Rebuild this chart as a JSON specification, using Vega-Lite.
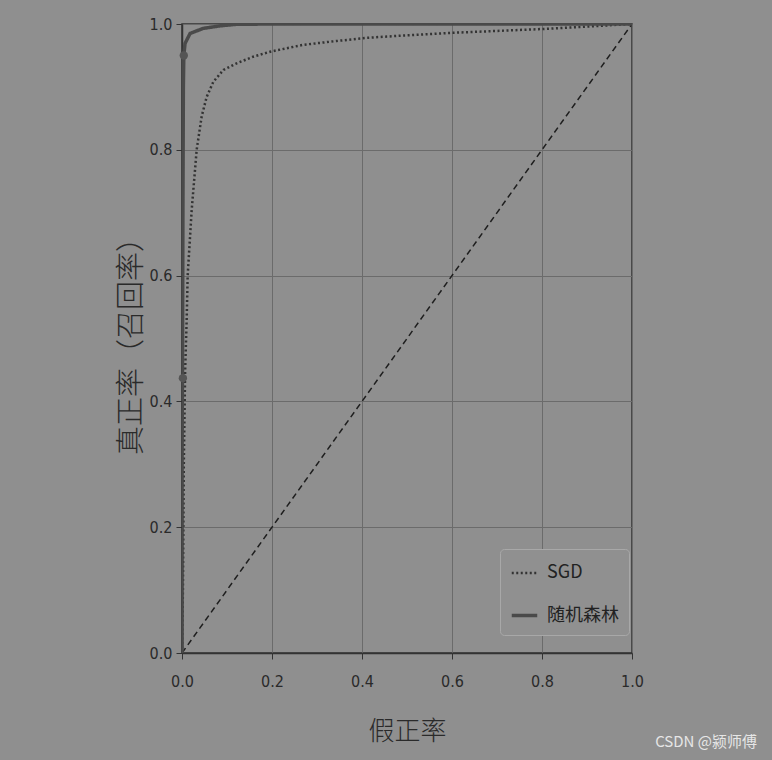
{
  "$schema": "https://vega.github.io/schema/vega-lite/v6.json",
  "width": 450,
  "height": 629,
  "autosize": {"type": "none"},
  "padding": {"left": 182, "top": 24, "right": 140, "bottom": 107},
  "background": "#8f8f8f",
  "title": {
    "text": "CSDN @颍师傅",
    "orient": "bottom",
    "anchor": "end",
    "frame": "group",
    "dx": 125,
    "offset": 0,
    "dy": -9,
    "fontSize": 15,
    "fontWeight": "normal",
    "font": "Noto Sans CJK SC",
    "color": "#e6e6e6"
  },
  "config": {
    "view": {"stroke": "#333333", "strokeWidth": 1.5},
    "axis": {
      "labelFont": "Liberation Sans Narrow, DejaVu Sans Condensed, Liberation Sans",
      "labelFontSize": 16,
      "labelColor": "#2a2a2a",
      "labelFlush": false,
      "tickColor": "#333333",
      "tickSize": 6,
      "domainColor": "#333333",
      "domainWidth": 1.5,
      "gridColor": "#6b6b6b",
      "gridWidth": 1,
      "titleFont": "Noto Sans CJK SC",
      "titleFontWeight": 300,
      "titleColor": "#2a2a2a"
    },
    "legend": {
      "orient": "none",
      "legendX": 318,
      "legendY": 525,
      "padding": 10,
      "fillColor": "#909090",
      "strokeColor": "#a8a8a8",
      "cornerRadius": 4,
      "symbolType": "stroke",
      "symbolSize": 650,
      "labelFont": "Noto Sans CJK SC",
      "labelFontSize": 18,
      "labelColor": "#222222",
      "rowPadding": 19,
      "labelOffset": 8
    }
  },
  "layer": [
    {
      "data": {"values": [{"x": 0, "y": 0}, {"x": 1, "y": 1}]},
      "mark": {"type": "line", "strokeDash": [6, 4], "color": "#1e1e1e", "strokeWidth": 1.5, "clip": true},
      "encoding": {
        "x": {
          "field": "x",
          "type": "quantitative",
          "scale": {"domain": [0, 1], "nice": false},
          "axis": {"values": [0, 0.2, 0.4, 0.6, 0.8, 1], "format": ".1f", "title": "假正率", "titleFontSize": 26, "titlePadding": 29, "labelPadding": 14}
        },
        "y": {
          "field": "y",
          "type": "quantitative",
          "scale": {"domain": [0, 1], "nice": false},
          "axis": {"values": [0, 0.2, 0.4, 0.6, 0.8, 1], "format": ".1f", "title": "真正率（召回率）", "titleFontSize": 29, "titlePadding": 3, "labelPadding": 4}
        }
      }
    },
    {
      "data": {
        "values": [
          {"model": "SGD", "i": 0, "fpr": 0, "tpr": 0},
          {"model": "SGD", "i": 1, "fpr": 0.002, "tpr": 0.1},
          {"model": "SGD", "i": 2, "fpr": 0.004, "tpr": 0.3},
          {"model": "SGD", "i": 3, "fpr": 0.007, "tpr": 0.45},
          {"model": "SGD", "i": 4, "fpr": 0.0104, "tpr": 0.53},
          {"model": "SGD", "i": 5, "fpr": 0.0126, "tpr": 0.6},
          {"model": "SGD", "i": 6, "fpr": 0.0215, "tpr": 0.704},
          {"model": "SGD", "i": 7, "fpr": 0.0326, "tpr": 0.8},
          {"model": "SGD", "i": 8, "fpr": 0.0437, "tpr": 0.853},
          {"model": "SGD", "i": 9, "fpr": 0.0548, "tpr": 0.884},
          {"model": "SGD", "i": 10, "fpr": 0.0696, "tpr": 0.908},
          {"model": "SGD", "i": 11, "fpr": 0.092, "tpr": 0.927},
          {"model": "SGD", "i": 12, "fpr": 0.1215, "tpr": 0.9375},
          {"model": "SGD", "i": 13, "fpr": 0.158, "tpr": 0.948},
          {"model": "SGD", "i": 14, "fpr": 0.196, "tpr": 0.956},
          {"model": "SGD", "i": 15, "fpr": 0.27, "tpr": 0.967},
          {"model": "SGD", "i": 16, "fpr": 0.344, "tpr": 0.973},
          {"model": "SGD", "i": 17, "fpr": 0.41, "tpr": 0.978},
          {"model": "SGD", "i": 18, "fpr": 0.5, "tpr": 0.982},
          {"model": "SGD", "i": 19, "fpr": 0.6, "tpr": 0.986},
          {"model": "SGD", "i": 20, "fpr": 0.7, "tpr": 0.989},
          {"model": "SGD", "i": 21, "fpr": 0.8, "tpr": 0.992},
          {"model": "SGD", "i": 22, "fpr": 0.9, "tpr": 0.996},
          {"model": "SGD", "i": 23, "fpr": 1, "tpr": 1},
          {"model": "随机森林", "i": 0, "fpr": 0, "tpr": 0},
          {"model": "随机森林", "i": 1, "fpr": 0, "tpr": 0.3},
          {"model": "随机森林", "i": 2, "fpr": 0.001, "tpr": 0.44},
          {"model": "随机森林", "i": 3, "fpr": 0.002, "tpr": 0.7},
          {"model": "随机森林", "i": 4, "fpr": 0.003, "tpr": 0.9},
          {"model": "随机森林", "i": 5, "fpr": 0.004, "tpr": 0.95},
          {"model": "随机森林", "i": 6, "fpr": 0.0067, "tpr": 0.969},
          {"model": "随机森林", "i": 7, "fpr": 0.018, "tpr": 0.985},
          {"model": "随机森林", "i": 8, "fpr": 0.047, "tpr": 0.993},
          {"model": "随机森林", "i": 9, "fpr": 0.084, "tpr": 0.997},
          {"model": "随机森林", "i": 10, "fpr": 0.12, "tpr": 0.9995},
          {"model": "随机森林", "i": 11, "fpr": 0.2, "tpr": 1},
          {"model": "随机森林", "i": 12, "fpr": 1, "tpr": 1}
        ]
      },
      "mark": {"type": "line", "clip": true},
      "encoding": {
        "x": {"field": "fpr", "type": "quantitative"},
        "y": {"field": "tpr", "type": "quantitative"},
        "order": {"field": "i", "type": "quantitative"},
        "color": {
          "field": "model",
          "type": "nominal",
          "scale": {"domain": ["SGD", "随机森林"], "range": ["#333333", "#4a4a4a"]},
          "legend": {"title": null}
        },
        "strokeDash": {
          "field": "model",
          "type": "nominal",
          "scale": {"domain": ["SGD", "随机森林"], "range": [[2, 2.5], [1, 0]]},
          "legend": {"title": null}
        },
        "strokeWidth": {
          "field": "model",
          "type": "nominal",
          "scale": {"domain": ["SGD", "随机森林"], "range": [2.5, 3.5]},
          "legend": {"title": null}
        }
      }
    },
    {
      "data": {"values": [{"fpr": 0.004, "tpr": 0.95}, {"fpr": 0.002, "tpr": 0.437}]},
      "mark": {"type": "point", "filled": true, "size": 70, "color": "#555555", "opacity": 1},
      "encoding": {
        "x": {"field": "fpr", "type": "quantitative"},
        "y": {"field": "tpr", "type": "quantitative"}
      }
    }
  ]
}
